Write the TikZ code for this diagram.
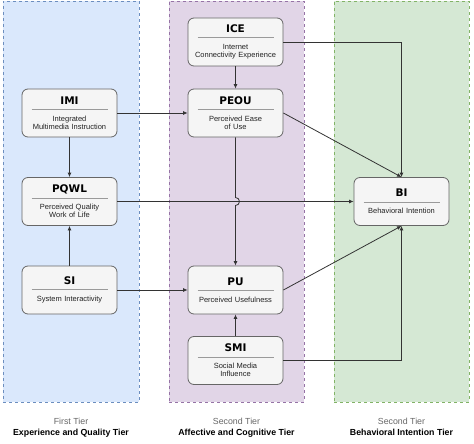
\documentclass[tikz,border=0pt]{standalone}
\usepackage{fontspec}
\setmainfont{Liberation Sans}
\newfontfamily\titlefamily{DejaVu Sans}
\usetikzlibrary{arrows.meta,
                  calc,
                  positioning}

\definecolor{tierblue}{HTML}{DAE8FC}
\definecolor{tierblueline}{HTML}{6C8EBF}
\definecolor{tierpurple}{HTML}{E1D5E7}
\definecolor{tierpurpleline}{HTML}{9673A6}
\definecolor{tiergreen}{HTML}{D5E8D4}
\definecolor{tiergreenline}{HTML}{82B366}
\definecolor{boxfill}{HTML}{F5F5F5}
\definecolor{boxline}{HTML}{666666}
\definecolor{sepgray}{HTML}{9A9A9A}
\definecolor{arrowgray}{HTML}{333333}
\definecolor{bodytext}{HTML}{222222}
\definecolor{labelgray}{HTML}{666666}

\newcommand{\ctitle}[1]{{\color{black}\titlefamily\bfseries\fontsize{10.5}{12}\selectfont #1}\\[-2.8pt]\textcolor{sepgray}{\rule{76pt}{0.5pt}}\\[3.7pt]}

\begin{document}
\begin{tikzpicture}[x=1pt, y=-1pt, >=Latex]
    \tikzset{
    tierpanel/.style={draw, dash pattern=on 3pt off 3pt, line width=0.9pt, inner sep=0pt, minimum height=401pt},
    tierlabel/.style={align=center, inner sep=0pt, font=\fontsize{8.8}{11}\selectfont},
    concept/.style={draw=boxline, fill=boxfill, rounded corners=6pt, line width=0.8pt, align=center, text width=95pt, minimum height=48pt, inner sep=0pt, text=bodytext, font=\fontsize{7.5}{8}\selectfont},
    line/.style={draw=arrowgray, line width=0.8pt, -{Latex[length=4.5pt,width=4pt]}}
}
\useasboundingbox (0,0) rectangle (474,444);

% tiers
\node [tierpanel, fill=tierblue, draw=tierblueline, minimum width=136pt] (firsttier) at (71,201.5) {};
\node [tierpanel, fill=tierpurple, draw=tierpurpleline, minimum width=135pt] (secondtier) at (236.5,201.5) {};
\node [tierpanel, fill=tiergreen, draw=tiergreenline, minimum width=135pt] (thirdtier) at (401.5,201.5) {};

\node [tierlabel, below=15.5pt of firsttier] (firstlabel) {\textcolor{labelgray}{First Tier}\\\textbf{Experience and Quality Tier}};
\node [tierlabel, below=15.5pt of secondtier] (secondlabel) {\textcolor{labelgray}{Second Tier}\\\textbf{Affective and Cognitive Tier}};
\node [tierlabel, below=15.5pt of thirdtier] (thirdlabel) {\textcolor{labelgray}{Second Tier}\\\textbf{Behavioral Intention Tier}};

% constructs
\node [concept] (imi) at (69.5,113) {\ctitle{IMI}Integrated\\Multimedia Instruction};
\node [concept, below of=imi, node distance=88.5pt] (pqwl) {\ctitle{PQWL}Perceived Quality\\Work of Life};
\node [concept, below of=pqwl, node distance=88.5pt] (si) {\ctitle{SI}System Interactivity};
\node [concept, right of=imi, node distance=166pt] (peou) {\ctitle{PEOU}Perceived Ease\\of Use};
\node [concept, above of=peou, node distance=71pt] (ice) {\ctitle{ICE}Internet\\Connectivity Experience};
\node [concept, below of=peou, node distance=177pt] (pu) {\ctitle{PU}Perceived Usefulness};
\node [concept, below of=pu, node distance=70.5pt] (smi) {\ctitle{SMI}Social Media\\Influence};
\node [concept, right of=pqwl, node distance=332pt] (bi) {\ctitle{BI}Behavioral Intention};

% paths
\path [line] (ice) -- (peou);
\path [line] (ice) -| (bi);
\path [line] (imi) -- (peou);
\path [line] (imi) -- (pqwl);
\path [line] (peou.east) -- (bi.north);
\path [line] (pqwl) -- (bi);
\path [line] (peou) -- ($(peou.south |- pqwl.east)+(0,-4)$) arc[start angle=90, end angle=-90, radius=4pt] -- (pu);
\path [line] (si) -- (pqwl);
\path [line] (si) -- (pu);
\path [line] (pu.east) -- (bi.south);
\path [line] (smi) -- (pu);
\path [line] (smi) -| (bi);

\end{tikzpicture}
\end{document}
